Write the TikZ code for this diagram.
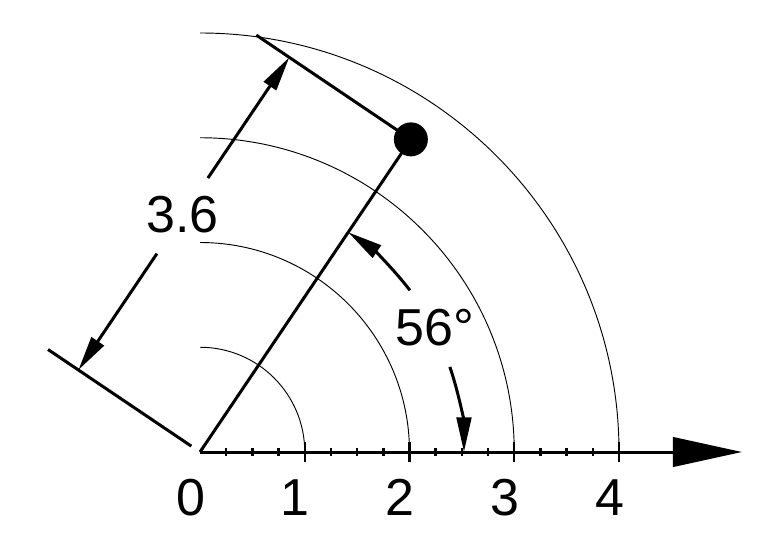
\documentclass[tikz,border=0pt]{standalone}
\usepackage{fontspec}
\setmainfont{Liberation Sans}
\usetikzlibrary{arrows.meta,calc}
\begin{document}
\begin{tikzpicture}[x=78.5625pt,y=78.5625pt,
  thickline/.style={line width=2.25pt},
  guide/.style={line width=0.7pt},
  tickline/.style={line width=1.8pt},
  dimarrow/.style={-{Triangle[length=26pt,width=11pt]}},
  lbl/.style={font=\fontsize{39}{42}\selectfont, inner sep=0pt}]
\useasboundingbox (-1.9093,-0.9260) rectangle (5.4224,4.3150);
\coordinate (O) at (0,0);
\coordinate (X) at (5.174,0);
% reference arcs
\foreach \r in {1,2,3,4}
  \draw[guide] (\r,0) arc[start angle=0,end angle=90,radius=\r];
% ticks
\foreach \t in {0.25,0.5,0.75,1.25,1.5,1.75,2.25,2.5,2.75,3.25,3.5,3.75}
  \draw[tickline] (\t,-0.04) -- (\t,0.04);
\foreach \t in {1,2,3,4}
  \draw[tickline] (\t,-0.095) -- (\t,0.095);
% axis
\draw[thickline, -{Triangle[length=51.75pt,width=22pt]}] (O) -- (X);
% point and ray
\node[circle, fill, minimum size=25.5pt, inner sep=0pt] (P) at (56:3.6) {};
\draw[thickline] (O) -- (P.center);
% extension lines
\coordinate (E1a) at (146:0.1);
\coordinate (E1b) at (146:1.75);
\coordinate (E2b) at ($(P.center)+(146:1.78)$);
\draw[thickline] (E1a) -- (E1b);
\draw[thickline] (P.center) -- (E2b);
% dimension line
\coordinate (D1) at (146:1.4);
\coordinate (D1e) at ($(146:1.4)+(56:1.34)$);
\coordinate (D2s) at ($(146:1.4)+(56:2.21)$);
\coordinate (D2) at ($(146:1.4)+(56:3.6)$);
\draw[thickline, dimarrow] (D1e) -- (D1);
\draw[thickline, dimarrow] (D2s) -- (D2);
\node[lbl] (dimlbl) at (-0.167,2.267) {3.6};
% angle
\coordinate (A1) at (18.8:2.52);
\coordinate (A2) at (37.6:2.53);
\draw[thickline, dimarrow] (A1) arc[start angle=18.8,end angle=0,radius=2.52];
\draw[thickline, dimarrow] (A2) arc[start angle=37.6,end angle=56,radius=2.53];
\node[lbl] (ang) at (2.243,1.184) {56°};
% axis labels
\foreach \v/\x in {0/-0.086,1/0.907,2/1.909,3/2.912,4/3.914}
  \node[lbl] (l\v) at (\x,-0.434) {\v};
\end{tikzpicture}
\end{document}
